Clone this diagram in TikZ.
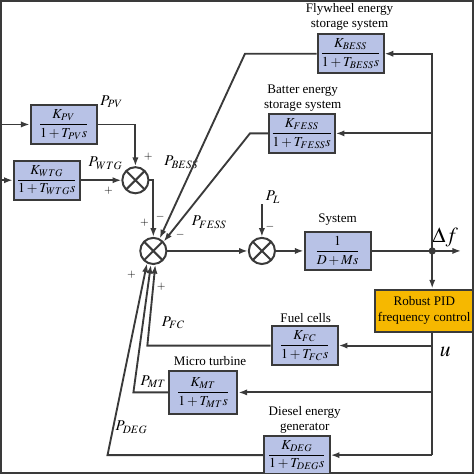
\documentclass[tikz,border=0pt]{standalone}
\usepackage{amsmath}
\usepackage{mathptmx}
\usepackage[no-math]{fontspec}
\setmainfont{Liberation Serif}
\usetikzlibrary{arrows.meta}
\definecolor{boxblue}{HTML}{B8C2E6}
\definecolor{pidgold}{HTML}{F6B800}
\definecolor{wire}{HTML}{3A3A3A}
\begin{document}
\begin{tikzpicture}[x=0.8pt,y=-0.8pt]
	\tikzset{>={Latex[length=7pt,width=5pt]},
		every path/.style={draw=wire,line width=1.5pt},
		tfbox/.style={draw=wire,fill=boxblue,line width=1.6pt,minimum width=53pt,minimum height=31pt,inner sep=1pt,font=\fontsize{11}{13}\selectfont},
		ctrlbox/.style={draw=wire,fill=pidgold,line width=1.6pt,minimum width=79pt,minimum height=34pt,align=center,inner sep=1pt,font=\fontsize{10.5}{13}\selectfont},
		sumnode/.style={circle,draw=wire,line width=1.6pt,minimum size=21pt,inner sep=0pt,
			path picture={\draw[line width=1.6pt] (path picture bounding box.north west) -- (path picture bounding box.south east)
				(path picture bounding box.north east) -- (path picture bounding box.south west);}},
		lbl/.style={align=center,inner sep=0pt,font=\fontsize{10.5}{12}\selectfont},
		sgl/.style={inner sep=0pt,font=\large},
		sig/.style={inner sep=0pt,font=\small}}
	\useasboundingbox (0,0) rectangle (474,474);
	% blocks
	\node[tfbox] (pv) at (63,124) {$\dfrac{K_{PV}}{1+T_{PV}s}$};
	\node[tfbox] (wtg) at (46,180) {$\dfrac{K_{WTG}}{1+T_{WTG}s}$};
	\node[tfbox] (bess) at (351,53) {$\dfrac{K_{BESS}}{1+T_{BESS}s}$};
	\node[tfbox] (fess) at (302,133) {$\dfrac{K_{FESS}}{1+T_{FESS}s}$};
	\node[tfbox] (sys) at (338,251) {$\dfrac{1}{D+Ms}$};
	\node[tfbox] (fc) at (305,346) {$\dfrac{K_{FC}}{1+T_{FC}s}$};
	\node[tfbox,minimum width=55pt,minimum height=35pt] (mt) at (203,393) {$\dfrac{K_{MT}}{1+T_{MT}s}$};
	\node[tfbox] (deg) at (297,456) {$\dfrac{K_{DEG}}{1+T_{DEG}s}$};
	\node[ctrlbox] (pid) at (425,311) {Robust PID\\frequency control};
	\node[sumnode] (sum2) at (135,180) {};
	\node[sumnode] (sum1) at (153,251) {};
	\node[sumnode] (sum3) at (262,251) {};
	% block titles
	\node[lbl] (tbess) at (350,16) {Flywheel energy\\storage system};
	\node[lbl] (tfess) at (303,98) {Batter energy\\storage system};
	\node[lbl] (tsys) at (338,220) {System};
	\node[lbl] (tfc) at (306,318) {Fuel cells};
	\node[lbl] (tmt) at (210,362) {Micro turbine};
	\node[lbl] (tdeg) at (305,421) {Diesel energy\\generator};
	% signal names
	\node[sgl] at (111,101) {$P_{PV}$};
	\node[sgl] at (105,163) {$P_{WTG}$};
	\node[sgl] at (181,162) {$P_{BESS}$};
	\node[sgl] at (209,222) {$P_{FESS}$};
	\node[sgl] at (273,197) {$P_{L}$};
	\node[sgl,font=\LARGE] at (446,237) {$\Delta f$};
	\node[sgl,font=\LARGE] at (446,352) {$u$};
	\node[sgl] at (173,323) {$P_{FC}$};
	\node[sgl] at (153,382) {$P_{MT}$};
	\node[sgl] at (131,428) {$P_{DEG}$};
	% signs
	\node[sig] at (148,156) {$+$};
	\node[sig] at (108,191) {$+$};
	\node[sig] at (144,223) {$+$};
	\node[sig] at (160,217) {$-$};
	\node[sig] at (180,235) {$-$};
	\node[sig] at (270,227) {$-$};
	\node[sig] at (131,275) {$+$};
	\node[sig] at (161,287) {$+$};
	% helper points
	\coordinate (inpv) at (0,124);
	\coordinate (inwtg) at (0,180);
	\coordinate (kb) at (245,53);
	\coordinate (kf) at (250,133);
	\coordinate (kfc) at (147,346);
	\coordinate (kmt) at (133,393);
	\coordinate (kdeg) at (107,456);
	\coordinate (pl) at (262,204);
	\coordinate (dot) at (433,251);
	\coordinate (out) at (462,251);
	\coordinate (ub) at (433,456);
	% connectors
	\draw[->] (inpv) -- (pv);
	\draw[->] (inwtg) -- (wtg);
	\draw[->] (pv) -| (sum2.north);
	\draw[->] (wtg) -- (sum2);
	\draw[->] (sum2.east) -| (sum1.north);
	\draw[->] (bess) -- (kb) -- (sum1.63);
	\draw[->] (fess) -- (kf) -- (sum1.42);
	\draw[->] (sum1) -- (sum3);
	\draw[->] (pl) -- (sum3);
	\draw[->] (sum3) -- (sys);
	\draw (sys) -- (dot);
	\draw[->] (dot) -- (out);
	\draw[->] (dot) |- (bess);
	\draw[->] (dot) |- (fess);
	\draw[->] (dot) -- (dot |- pid.north);
	\draw (pid.south -| ub) -- (ub);
	\draw[->] (pid.south -| ub) |- (fc);
	\draw[->] (pid.south -| ub) |- (mt);
	\draw[->] (ub) -- (deg);
	\draw[->] (fc) -- (kfc) -- (sum1.-82);
	\draw[->] (mt) -- (kmt) -- (sum1.-100);
	\draw[->] (deg) -- (kdeg) -- (sum1.-117);
	\fill[wire] (dot) circle (2.6);
\end{tikzpicture}
\end{document}
